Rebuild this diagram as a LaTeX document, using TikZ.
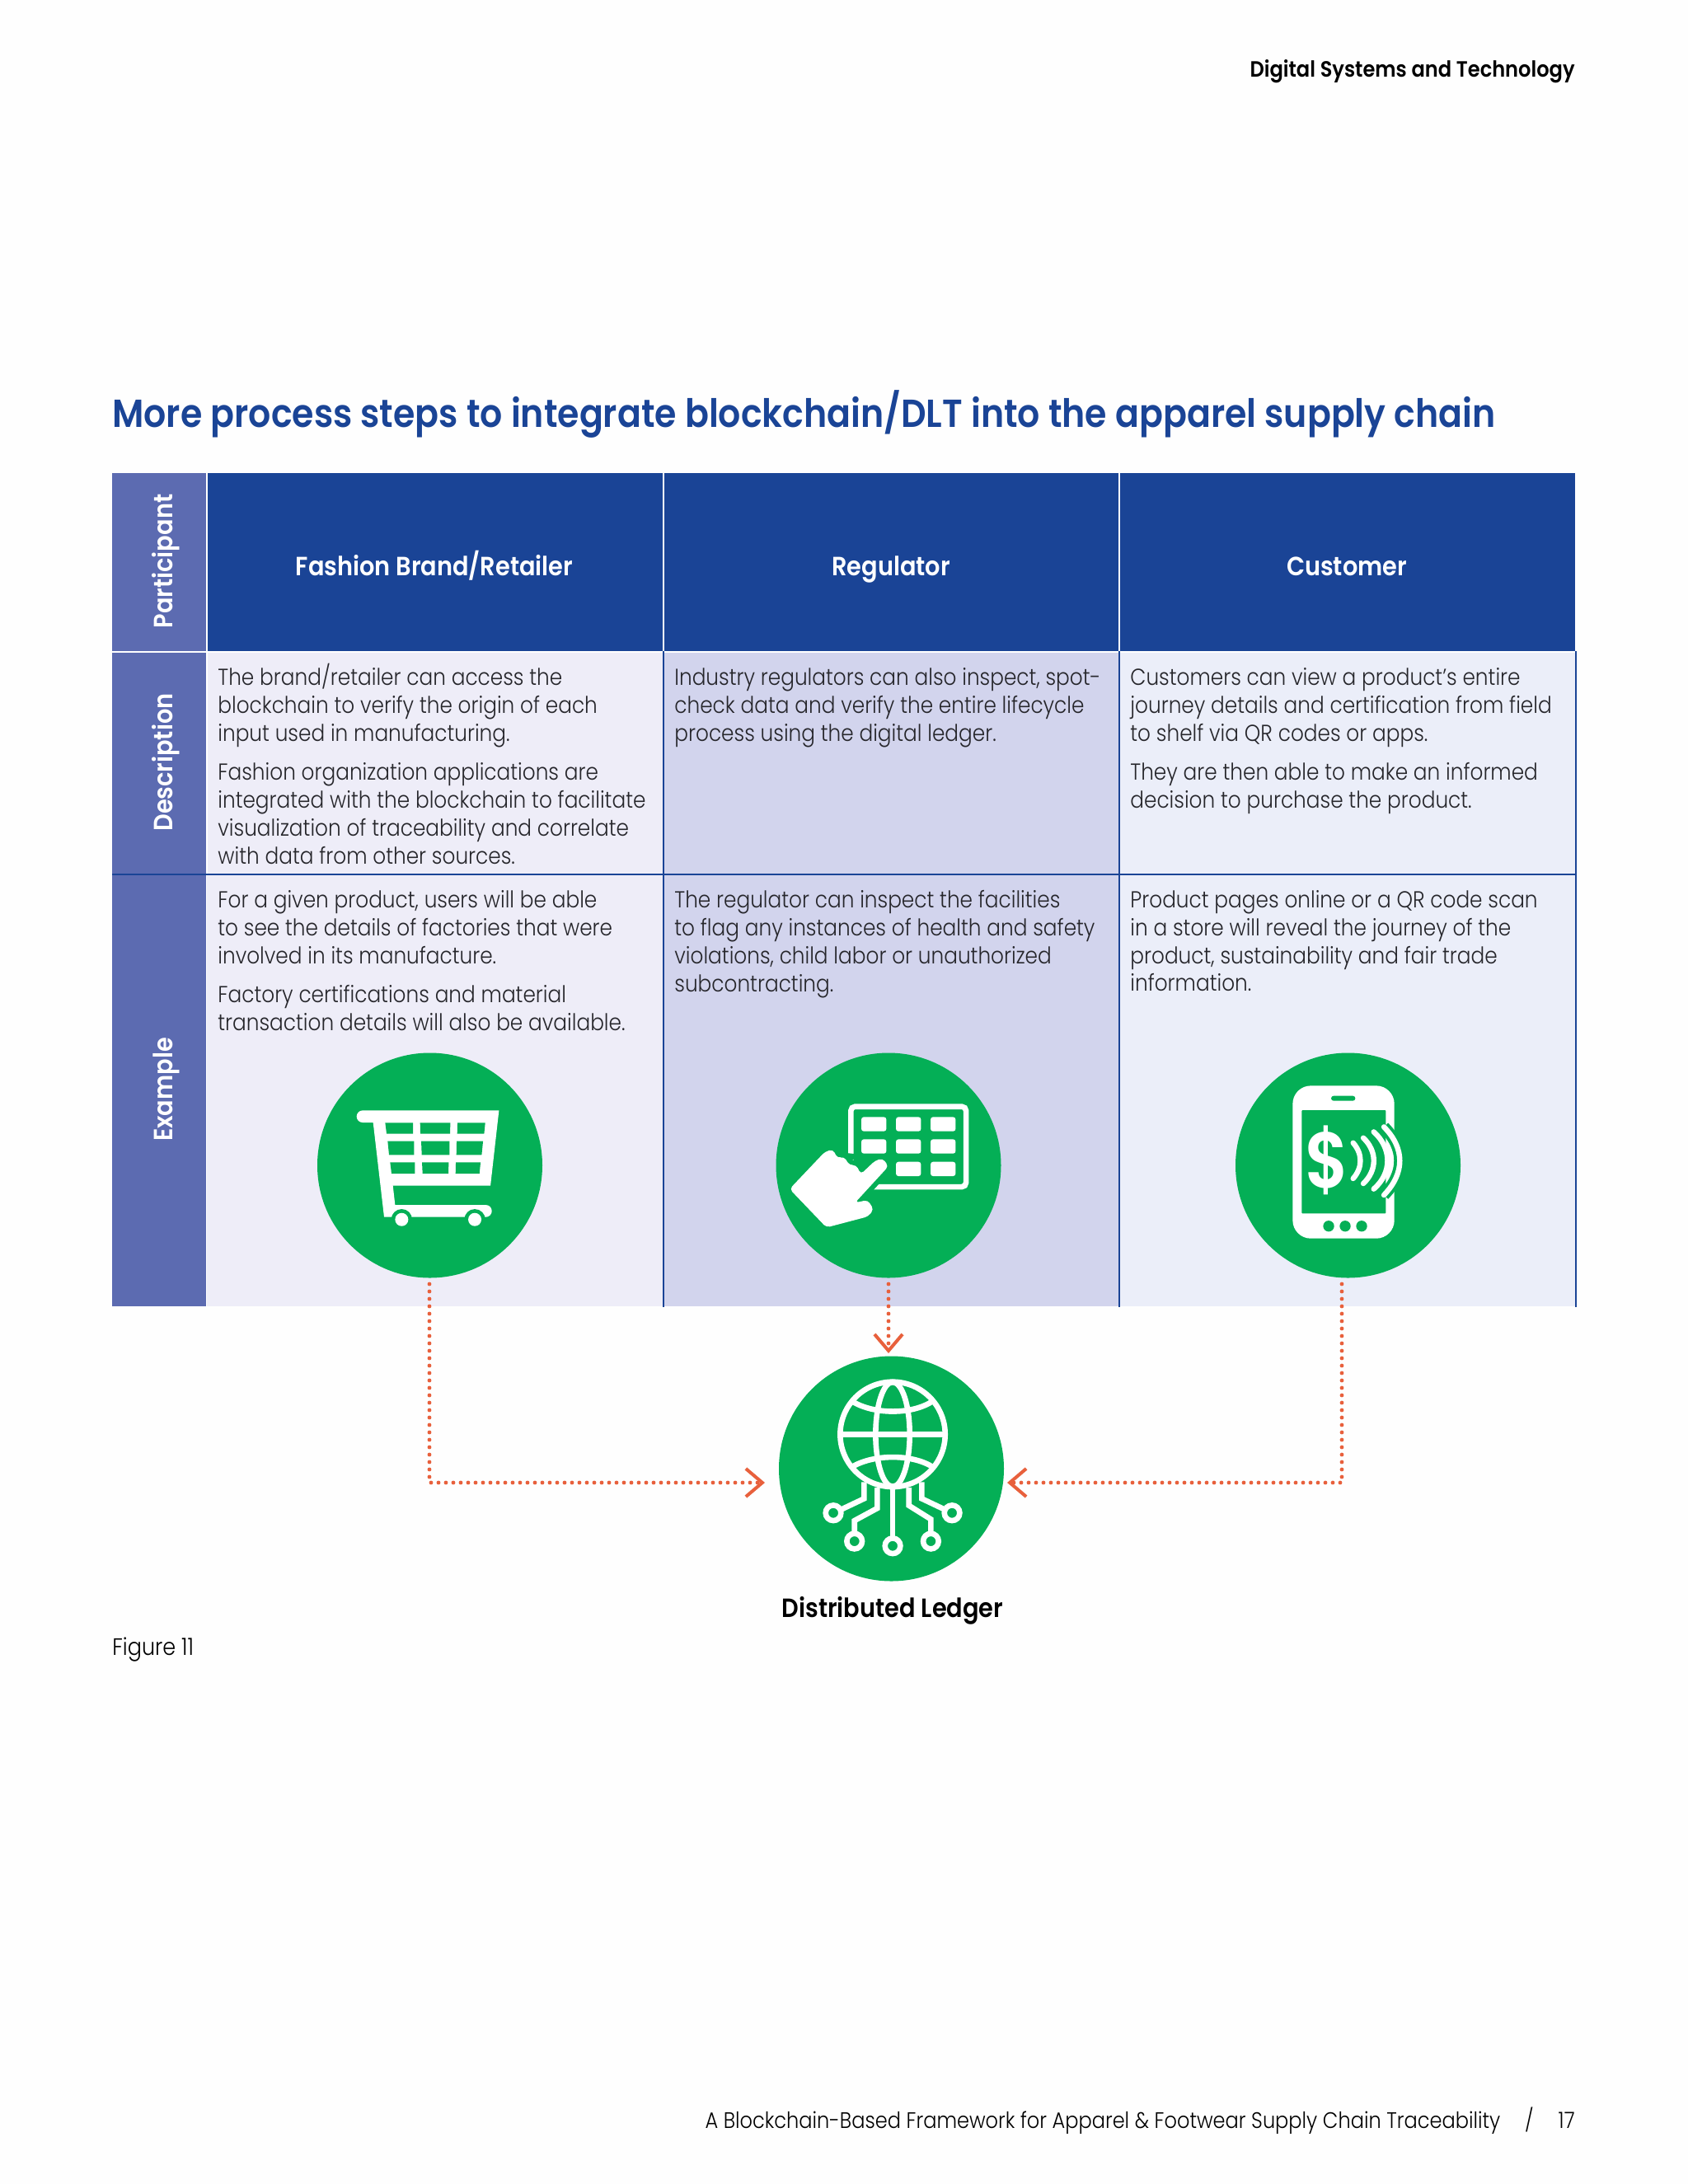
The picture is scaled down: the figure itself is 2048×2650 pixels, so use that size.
\documentclass[tikz,border=0pt]{standalone}
\usepackage{fontspec}
\setmainfont{Poppins Light}[FakeStretch=0.885]
\newfontfamily\headfont{Poppins SemiBold}[FakeStretch=0.9]
\usetikzlibrary{arrows.meta}
\definecolor{headblue}{HTML}{1A4496}
\definecolor{labelblue}{HTML}{5C6BB1}
\definecolor{cellone}{HTML}{EEEDF8}
\definecolor{celltwo}{HTML}{D2D4ED}
\definecolor{cellthree}{HTML}{EBEEF9}
\definecolor{iconGreen}{HTML}{04AF56}
\definecolor{flowRed}{HTML}{E8603C}
\definecolor{bodyInk}{HTML}{26262B}
\tikzset{
	cell/.style={anchor=north west, inner sep=0pt, minimum width=#1},
	bodytext/.style={anchor=north west, inner sep=0pt, align=left, text=bodyInk, font=\fontsize{14}{16.9}\selectfont},
	rowlabel/.style={rotate=90, inner sep=0pt, text=white, text height=12pt, text depth=3pt, font=\headfont\fontsize{16}{19}\selectfont},
	headtext/.style={inner sep=0pt, text=white, text height=12pt, text depth=3pt, font=\headfont\fontsize{16}{19}\selectfont},
	iconcircle/.style={circle, fill=iconGreen, minimum size=136.5pt, inner sep=0pt},
	flow/.style={draw=flowRed, line width=2.4pt, line cap=round, dash pattern=on 0pt off 4.5pt, -{Straight Barb[length=10pt,width=17pt,line width=2pt]}},
}
\begin{document}
\begin{tikzpicture}[x=0.5pt, y=-0.5pt]
		\useasboundingbox[fill=white!99.5!black] (0, 0) rectangle (2048, 2650);
		\node[anchor=east, inner sep=0pt, font=\headfont\fontsize{13.4}{16}\selectfont] (section) at (1911, 87) {Digital Systems and Technology};
		\node[anchor=west, inner sep=0pt, text=headblue, font=\headfont\fontsize{23.7}{28}\selectfont] (title) at (136, 503) {More process steps to integrate blockchain/DLT into the apparel supply chain};

		% left column
		\node[cell=57pt, minimum height=108pt, fill=labelblue] (partlab) at (136, 574) {};
		\node[cell=57pt, minimum height=135pt, fill=labelblue] (desclab) at (136, 790) {};
		\node[cell=57pt, minimum height=262.5pt, fill=labelblue] (examlab) at (136, 1060) {};
		\node[rowlabel] (parttxt) at (200, 681) {Participant};
		\node[rowlabel] (desctxt) at (200, 925) {Description};
		\node[rowlabel] (examtxt) at (200, 1322) {Example};

		% header row
		\node[cell=276.5pt, minimum height=108pt, fill=headblue] (brandhead) at (251, 574) {};
		\node[cell=276.5pt, minimum height=108pt, fill=headblue] (reghead) at (804, 574) {};
		\node[cell=277pt, minimum height=108pt, fill=headblue] (custhead) at (1357, 574) {};
		\node[headtext] (brandname) at (527, 689) {Fashion Brand/Retailer};
		\node[headtext] (regname) at (1081, 689) {Regulator};
		\node[headtext] (custname) at (1634, 689) {Customer};

		% cells
		\node[cell=276.5pt, minimum height=135pt, fill=cellone] (branddesc) at (251, 790) {};
		\node[cell=276.5pt, minimum height=135pt, fill=celltwo] (regdesc) at (804, 790) {};
		\node[cell=277pt, minimum height=135pt, fill=cellthree] (custdesc) at (1357, 790) {};
		\node[cell=276.5pt, minimum height=262.5pt, fill=cellone] (brandexam) at (251, 1060) {};
		\node[cell=276.5pt, minimum height=262.5pt, fill=celltwo] (regexam) at (804, 1060) {};
		\node[cell=277pt, minimum height=262.5pt, fill=cellthree] (custexam) at (1357, 1060) {};

		% grid lines
		\draw[white, line width=1pt] (partlab.north east) -- (desclab.south east);
		\draw[white, line width=1pt] (partlab.south west) -- (custhead.south east);
		\draw[white, line width=1pt] (brandhead.north east) -- (brandhead.south east);
		\draw[white, line width=1pt] (reghead.north east) -- (reghead.south east);
		\draw[headblue, line width=0.8pt] (desclab.south west) -- (custdesc.south east);
		\draw[headblue, line width=0.8pt] (branddesc.north east) -- (brandexam.south east);
		\draw[headblue, line width=0.8pt] (regdesc.north east) -- (regexam.south east);
		\draw[headblue, line width=0.8pt] (custdesc.north east) -- (custexam.south east);

		% cell text
		\node[bodytext] (branddesctxt) at (264, 805) {The brand/retailer can access the\\blockchain to verify the origin of each\\input used in manufacturing.\\[6.75pt]Fashion organization applications are\\integrated with the blockchain to facilitate\\visualization of traceability and correlate\\with data from other sources.};
		\node[bodytext] (regdesctxt) at (818, 810) {Industry regulators can also inspect, spot-\\check data and verify the entire lifecycle\\process using the digital ledger.};
		\node[bodytext] (custdesctxt) at (1371, 810) {Customers can view a product’s entire\\journey details and certification from field\\to shelf via QR codes or apps.\\[6.75pt]They are then able to make an informed\\decision to purchase the product.};
		\node[bodytext] (brandexamtxt) at (264, 1080) {For a given product, users will be able\\to see the details of factories that were\\involved in its manufacture.\\[6.75pt]Factory certifications and material\\transaction details will also be available.};
		\node[bodytext] (regexamtxt) at (818, 1080) {The regulator can inspect the facilities\\to flag any instances of health and safety\\violations, child labor or unauthorized\\subcontracting.};
		\node[bodytext] (custexamtxt) at (1371, 1080) {Product pages online or a QR code scan\\in a store will reveal the journey of the\\product, sustainability and fair trade\\information.};

		% circles
		\node[iconcircle] (cart) at (521.5, 1414) {};
		\node[iconcircle] (keypad) at (1078, 1414) {};
		\node[iconcircle] (phone) at (1635.5, 1414) {};
		\node[iconcircle] (ledger) at (1081.5, 1782) {};

		% cart
		\begin{scope}[shift={(360, 1250)}, x=0.1667pt, y=-0.1667pt]
			\fill[white] (240, 292) -- (736, 292) -- (705, 566) -- (350, 566) -- (358, 636) -- (688, 636) arc (-90:90:22) -- (318, 680) -- (278, 336) -- (240, 336) arc (90:270:22) -- cycle;
			\fill[iconGreen] (322, 337) -- (423, 337) -- (423, 377) -- (327, 377) -- cycle;
			\fill[iconGreen] (449, 337) -- (559, 337) -- (558, 377) -- (450, 377) -- cycle;
			\fill[iconGreen] (585, 337) -- (686, 337) -- (682, 377) -- (584, 377) -- cycle;
			\fill[iconGreen] (331, 404) -- (427, 404) -- (427, 454) -- (336, 454) -- cycle;
			\fill[iconGreen] (453, 404) -- (556, 404) -- (556, 454) -- (455, 454) -- cycle;
			\fill[iconGreen] (582, 404) -- (678, 404) -- (673, 454) -- (581, 454) -- cycle;
			\fill[iconGreen] (340, 481) -- (430, 481) -- (430, 522) -- (345, 522) -- cycle;
			\fill[iconGreen] (456, 481) -- (553, 481) -- (552, 522) -- (458, 522) -- cycle;
			\fill[iconGreen] (579, 481) -- (669, 481) -- (665, 522) -- (578, 522) -- cycle;
			\foreach \wheelx in {382, 648} {
				\fill[iconGreen] (\wheelx, 689) circle (38);
				\fill[white] (\wheelx, 689) circle (24);
			}
		\end{scope}

		% keypad and hand
		\begin{scope}[shift={(920, 1260)}, x=0.1667pt, y=-0.1667pt]
			\draw[white, line width=3.3pt, rounded corners=2.5pt] (337, 248) rectangle (756, 540);
			\foreach \keyx/\keyy in {375/286, 501/286, 627/286, 375/367, 501/367, 627/367, 501/449, 627/449} {
				\fill[white, rounded corners=1.5pt] (\keyx, \keyy) rectangle ++(91, 52);
			}
			\path[fill=white, rounded corners=2.2pt, preaction={draw=iconGreen, line width=6pt}]
				(114, 548) -- (243, 412) -- (272, 404) -- (288, 436) -- (312, 430) -- (332, 462) -- (356, 460) -- (373, 494) -- (425, 445) -- (452, 436) -- (474, 465) -- (352, 598) -- (398, 588) -- (420, 622) -- (400, 648) -- (248, 688) -- cycle;
		\end{scope}

		% phone
		\begin{scope}[shift={(1480, 1260)}, x=0.1667pt, y=-0.1667pt]
			\fill[white, rounded corners=11pt] (265, 172) rectangle (635, 728);
			\fill[iconGreen, rounded corners=0.5pt] (298, 261) rectangle (604, 637);
			\fill[iconGreen, rounded corners=1.5pt] (405, 209) rectangle (493, 227);
			\foreach \dotx in {396, 456, 516} {
				\fill[iconGreen] (\dotx, 683) circle (20);
			}
			\node[inner sep=0pt, text=white, font=\headfont\fontsize{48}{50}\selectfont, xscale=0.95] (dollar) at (392, 443) {\$};
			\draw[iconGreen, line width=7pt] (597, 322) .. controls (674, 400) and (674, 490) .. (597, 570);
			\draw[white, line width=3.2pt, line cap=round] (485, 380) .. controls (520, 420) and (520, 470) .. (485, 510);
			\draw[white, line width=3.2pt, line cap=round] (522, 362) .. controls (573, 410) and (573, 480) .. (522, 528);
			\draw[white, line width=3.2pt, line cap=round] (560, 340) .. controls (627, 400) and (627, 490) .. (560, 548);
			\draw[white, line width=3.2pt, line cap=round] (597, 322) .. controls (674, 400) and (674, 490) .. (597, 570);
		\end{scope}

		% globe
		\begin{scope}[shift={(880, 1550)}, x=0.1667pt, y=-0.1667pt, white, line width=3.3pt]
			\draw (609, 571) circle (191);
			\draw (609, 571) ellipse (62 and 190);
			\draw (420, 571) -- (798, 571);
			\draw (460, 450) .. controls (540, 500) and (680, 500) .. (755, 450);
			\draw (460, 690) .. controls (540, 642) and (680, 642) .. (755, 690);
			\draw (505, 745) -- (505, 805) -- (425, 843);
			\draw (553, 765) -- (553, 840) -- (470, 885) -- (470, 932);
			\draw (609, 770) -- (609, 949);
			\draw (668, 765) -- (668, 830) -- (748, 880) -- (748, 932);
			\draw (715, 745) -- (715, 805) -- (795, 843);
			\foreach \nodex/\nodey in {393/857, 470/960, 609/977, 748/960, 825/857} {
				\draw (\nodex, \nodey) circle (28);
			}
		\end{scope}

		% flows
		\coordinate (cartout) at (521, 1558);
		\coordinate (keypadout) at (1078, 1558);
		\coordinate (phoneout) at (1628, 1558);
		\coordinate (ledgertop) at (1078, 1642);
		\coordinate (ledgerleft) at (928, 1799);
		\coordinate (ledgerright) at (1222, 1799);
		\draw[flow] (cartout) |- (ledgerleft);
		\draw[flow] (keypadout) -- (ledgertop);
		\draw[flow] (phoneout) |- (ledgerright);

		\node[inner sep=0pt, font=\headfont\fontsize{16}{19}\selectfont] (ledgername) at (1083, 1954) {Distributed Ledger};
		\node[anchor=west, inner sep=0pt, font=\fontsize{14.4}{16}\selectfont] (figlabel) at (136, 2002) {Figure 11};
		\node[anchor=east, inner sep=0pt, font=\fontsize{13.6}{16}\selectfont] (footer) at (1911, 2573) {A Blockchain-Based Framework for Apparel \& Footwear Supply Chain Traceability\hspace{1.1em}/\hspace{1.1em}17};
	\end{tikzpicture}
\end{document}
